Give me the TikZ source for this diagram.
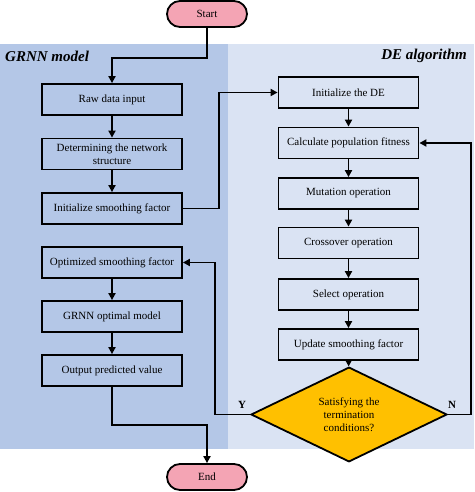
\documentclass[tikz,border=0pt]{standalone}
\usepackage{fontspec}
\setmainfont{Liberation Serif}
\usetikzlibrary{arrows.meta,shapes.geometric}
\definecolor{grnnbg}{HTML}{B4C7E7}
\definecolor{debg}{HTML}{DAE3F3}
\definecolor{termfill}{HTML}{F4A4B4}
\definecolor{decfill}{HTML}{FFC000}
\begin{document}
\begin{tikzpicture}[x=1pt,y=-1pt,
 proc/.style={draw=black, line width=1.8pt, minimum width=140pt, minimum height=31pt, inner sep=1pt, align=center, font=\fontsize{11}{13.5}\selectfont},
 term/.style={draw=black, line width=1.8pt, fill=termfill, rounded corners=13pt, minimum width=80pt, minimum height=26pt, inner sep=1pt, font=\fontsize{11}{13}\selectfont},
 dec/.style={diamond, draw=black, line width=1.8pt, fill=decfill, minimum width=196pt, minimum height=69pt, inner sep=0pt, align=center, font=\fontsize{11}{13}\selectfont},
 flow/.style={line width=1.8pt, -{Triangle[length=7pt,width=7pt]}},
 title/.style={font=\fontsize{15}{17}\selectfont\bfseries\itshape, inner sep=0pt},
 yn/.style={font=\fontsize{11}{13}\selectfont\bfseries, inner sep=0pt}]
\useasboundingbox (0,0) rectangle (474,492);
\fill[grnnbg] (0,44) rectangle (228,449);
\fill[debg] (228,44) rectangle (474,449);
\node[title, anchor=west] (tg) at (5,56) {GRNN model};
\node[title, anchor=east] (td) at (467,56) {DE algorithm};

\node[term] (start) at (207,14) {Start};
\node[term] (end) at (207,477) {End};

\node[proc] (raw) at (112,99.5) {Raw data input};
\node[proc] (det) at (112,154) {Determining the network\\structure};
\node[proc] (ism) at (112,208.5) {Initialize smoothing factor};
\node[proc] (opt) at (112,262.5) {Optimized smoothing factor};
\node[proc] (gom) at (112,316.5) {GRNN optimal model};
\node[proc] (out) at (112,370.5) {Output predicted value};

\node[proc] (ide) at (348.5,92.5) {Initialize the DE};
\node[proc] (cpf) at (348.5,143) {Calculate population fitness};
\node[proc] (mut) at (348.5,193.5) {Mutation operation};
\node[proc] (cro) at (348.5,243) {Crossover operation};
\node[proc] (sel) at (348.5,294.5) {Select operation};
\node[proc] (upd) at (348.5,344.5) {Update smoothing factor};
\node[dec] (cond) at (349,414.5) {Satisfying the\\termination\\conditions?};

\node[yn] (ylab) at (242,405) {Y};
\node[yn] (nlab) at (452,405) {N};

\draw[flow] (start.south) -- ++(0,30) -| (raw.north);
\draw[flow] (raw) -- (det);
\draw[flow] (det) -- (ism);
\draw[flow] (ism.east) -- ++(36,0) |- (ide.west);
\draw[flow] (ide) -- (cpf);
\draw[flow] (cpf) -- (mut);
\draw[flow] (mut) -- (cro);
\draw[flow] (cro) -- (sel);
\draw[flow] (sel) -- (upd);
\draw[flow] (upd) -- (cond);
\draw[flow] (cond.east) -- ++(23,0) |- (cpf.east);
\draw[flow] (cond.west) -- ++(-35,0) |- (opt.east);
\draw[flow] (opt) -- (gom);
\draw[flow] (gom) -- (out);
\draw[flow] (out.south) -- ++(0,38) -| (end.north);
\end{tikzpicture}
\end{document}
